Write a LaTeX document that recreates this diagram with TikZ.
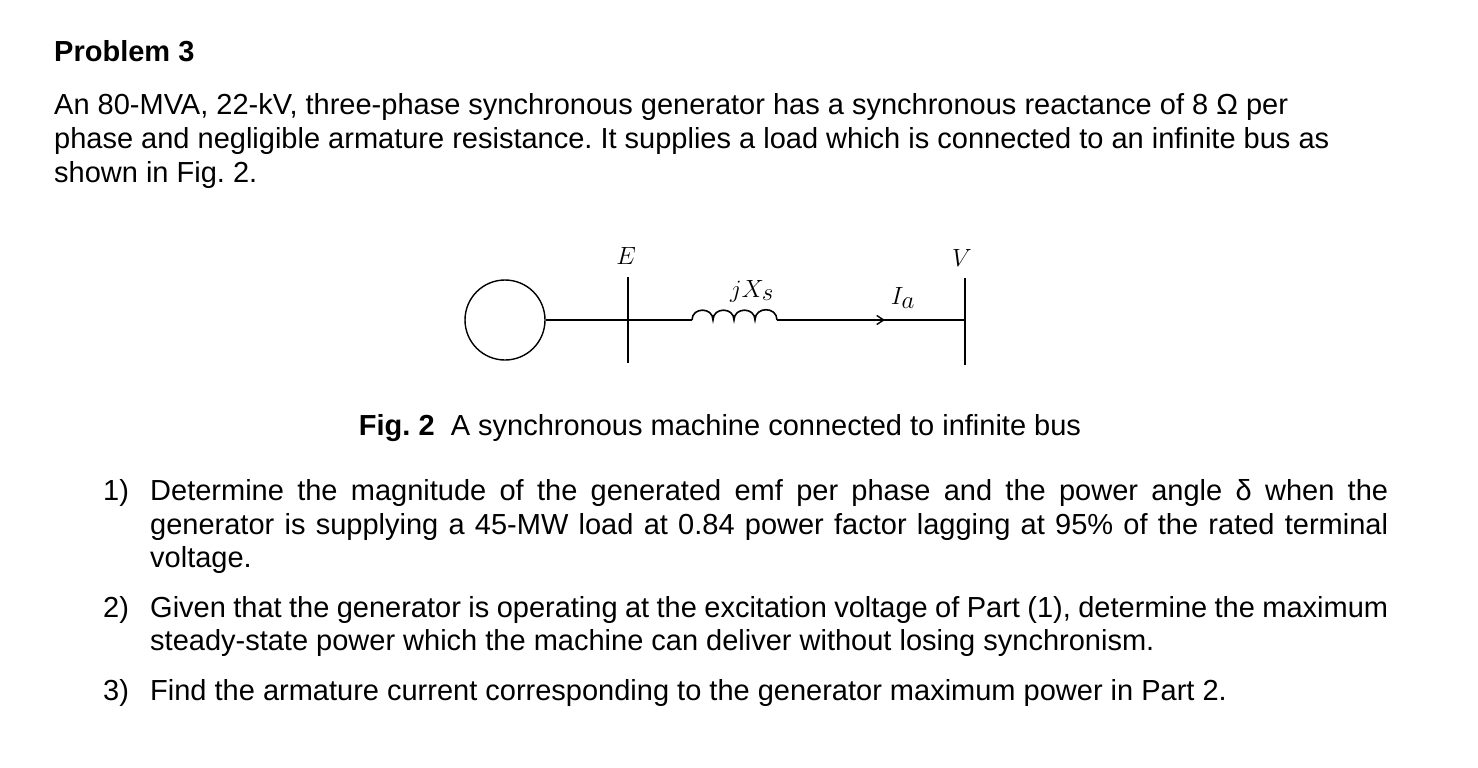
\documentclass[tikz,border=0pt]{standalone}
\usepackage{fontspec}
\setmainfont{Liberation Sans}
\frenchspacing
\usetikzlibrary{decorations.pathmorphing,arrows.meta}
\begin{document}
\begin{tikzpicture}[x=1pt,y=-1pt,
  txt/.style={anchor=base west,inner sep=0pt,font=\fontsize{29}{34}\selectfont},
  wire/.style={line width=1.6pt},
  bus/.style={line width=2.6pt},
  lbl/.style={inner sep=0pt,font=\fontsize{34}{36}\selectfont}]
\useasboundingbox (0,0) rectangle (1478,768);
\fill[white] (0,0) rectangle (1478,768);
\node[txt,font=\fontsize{29}{34}\selectfont\bfseries] (p) at (54,62) {Problem 3};
\node[txt] (l1) at (54,114) {An 80-MVA, 22-kV, three-phase synchronous generator has a synchronous reactance of 8 Ω per};
\node[txt] (l2) at (54,148) {phase and negligible armature resistance. It supplies a load which is connected to an infinite bus as};
\node[txt] (l3) at (54,182) {shown in Fig. 2.};
% circuit
\node[draw,circle,line width=1.4pt,minimum size=80pt,inner sep=0pt] (g) at (505,320) {};
\coordinate (et) at (628,277); \coordinate (eb) at (628,363);
\coordinate (vt) at (965,278); \coordinate (vb) at (965,365);
\coordinate (e) at (628,320); \coordinate (v) at (965,320);
\coordinate (l0) at (692,320); \coordinate (l1c) at (777,320);
\coordinate (ar) at (885,320);
\draw[bus] (et) -- (eb);
\draw[bus] (vt) -- (vb);
\draw[wire] (g.east) -- (e) -- (l0);
\draw[wire] (l0) to[out=90,in=90,looseness=1.6] ++(21,0) to[out=90,in=90,looseness=1.6] ++(21,0) to[out=90,in=90,looseness=1.6] ++(21,0) to[out=90,in=90,looseness=1.6] (l1c);
\draw[wire] (l1c) -- (v);
\draw[line width=1.4pt,-{Straight Barb[length=7pt,width=9pt]}] (l1c) -- (ar);
\node[lbl] (E) at (626,256) {$E$};
\node[lbl] (V) at (962,258) {$V$};
\node[lbl] (X) at (752,291) {$jX_s$};
\node[lbl] (I) at (903,298) {$I_a$};
\node[txt,anchor=base] (cap) at (720,435) {\textbf{Fig. 2}\ \ A synchronous machine connected to infinite bus};
% questions
\node[txt] (n1) at (103,500) {1)};
\node[txt] (q11) at (150,500) {\makebox[1238pt][s]{Determine the magnitude of the generated emf per phase and the power angle δ when the}};
\node[txt] (q12) at (150,534) {\makebox[1238pt][s]{generator is supplying a 45-MW load at 0.84 power factor lagging at 95\% of the rated terminal}};
\node[txt] (q13) at (150,567) {voltage.};
\node[txt] (n2) at (103,617) {2)};
\node[txt] (q21) at (150,617) {\makebox[1238pt][s]{Given that the generator is operating at the excitation voltage of Part (1), determine the maximum}};
\node[txt] (q22) at (150,650) {steady-state power which the machine can deliver without losing synchronism.};
\node[txt] (n3) at (103,700) {3)};
\node[txt] (q31) at (150,700) {Find the armature current corresponding to the generator maximum power in Part 2.};
\end{tikzpicture}
\end{document}
